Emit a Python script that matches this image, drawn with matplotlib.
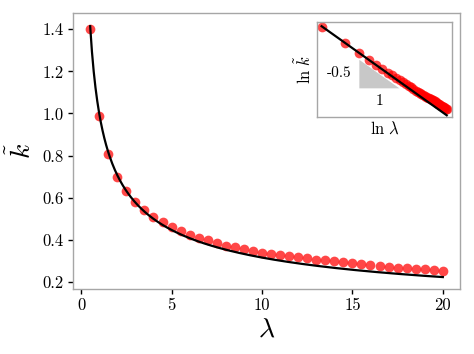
import numpy as np
import matplotlib
matplotlib.use("Agg")
import matplotlib.pyplot as plt

plt.rcParams["font.family"] = "serif"
plt.rcParams["font.serif"] = ["cmr10", "DejaVu Serif"]
plt.rcParams["mathtext.fontset"] = "cm"
plt.rcParams["axes.formatter.use_mathtext"] = True

# measured points (lambda, k tilde)
lam_pts = [0.5, 1.0, 1.5, 2.0, 2.5, 3.0, 3.5, 4.0, 4.5, 5.0,
           5.5, 6.0, 6.5, 7.0, 7.5, 8.0, 8.5, 9.0, 9.5, 10.0,
           10.5, 11.0, 11.5, 12.0, 12.5, 13.0, 13.5, 14.0, 14.5, 15.0,
           15.5, 16.0, 16.5, 17.0, 17.5, 18.0, 18.5, 19.0, 19.5, 20.0]
k_pts = [1.40, 0.99, 0.81, 0.70, 0.63, 0.58, 0.54, 0.51, 0.483, 0.461,
         0.442, 0.424, 0.410, 0.399, 0.386, 0.373, 0.364, 0.355, 0.347, 0.340,
         0.334, 0.328, 0.323, 0.318, 0.312, 0.307, 0.304, 0.299, 0.295, 0.290,
         0.285, 0.280, 0.277, 0.272, 0.269, 0.266, 0.263, 0.260, 0.257, 0.253]

# power-law reference curve k = C * lambda^p
FIT_C = 1.0
FIT_EXP = -0.5
LAM_MIN, LAM_MAX = 0.5, 20.0

x_ticks = [0, 5, 10, 15, 20]
y_ticks = [0.2, 0.4, 0.6, 0.8, 1.0, 1.2, 1.4]

lam_fit = np.linspace(LAM_MIN, LAM_MAX, 400)
k_fit = FIT_C * lam_fit ** FIT_EXP

spine_col = "#a6a6a6"

fig = plt.figure(figsize=(4.74, 3.54), dpi=100)
ax = fig.add_axes([0.154, 0.1836, 0.8165, 0.7797])

ax.plot(lam_pts, k_pts, "o", color="red", alpha=0.72, markersize=7,
        markeredgewidth=0, zorder=2)
ax.plot(lam_fit, k_fit, color="black", linewidth=1.6, zorder=3)

ax.set_xlim(-0.45, 20.95)
ax.set_ylim(0.167, 1.477)
ax.set_xticks(x_ticks)
ax.set_yticks(y_ticks)
ax.set_xticklabels([str(t) for t in x_ticks])
ax.set_yticklabels([f"{t:.1f}" for t in y_ticks])
ax.tick_params(direction="out", length=3.5, width=1, color="black",
               labelsize=12, pad=3)
for s in ax.spines.values():
    s.set_color(spine_col)
    s.set_linewidth(1.0)
ax.set_xlabel(r"$\lambda$", fontsize=20, labelpad=2)
ax.set_ylabel(r"$\tilde{k}$", fontsize=20, labelpad=4)

# inset: log-log
ins = fig.add_axes([0.668, 0.6686, 0.2862, 0.2701])
ins.plot(np.log(lam_pts), np.log(k_pts), "o", color="red", alpha=0.72,
         markersize=7, markeredgewidth=0, zorder=2)
ins.plot(np.log(lam_fit), np.log(k_fit), color="black", linewidth=1.6, zorder=3)
ins.set_xlim(-0.84, 3.16)
ins.set_ylim(-1.54, 0.44)
ins.set_xticks([])
ins.set_yticks([])
for s in ins.spines.values():
    s.set_color(spine_col)
    s.set_linewidth(1.0)
ins.set_xlabel(r"$\ln\,\lambda$", fontsize=12, labelpad=2)
ins.set_ylabel(r"$\ln\,\tilde{k}$", fontsize=12, labelpad=2)

# slope triangle
tx0, tdx, ty0 = 0.42, 1.18, -0.94
ins.fill([tx0, tx0, tx0 + tdx], [ty0, ty0 - FIT_EXP * tdx, ty0],
         color="#c8c8c8", linewidth=0, zorder=1)
ins.text(tx0 - 0.22, ty0 - FIT_EXP * tdx / 2 + 0.03, "-0.5", fontsize=11,
         ha="right", va="center")
ins.text(tx0 + tdx / 2, ty0 - 0.12, "1", fontsize=11, ha="center", va="top")

fig.savefig("out.png", dpi=100)
